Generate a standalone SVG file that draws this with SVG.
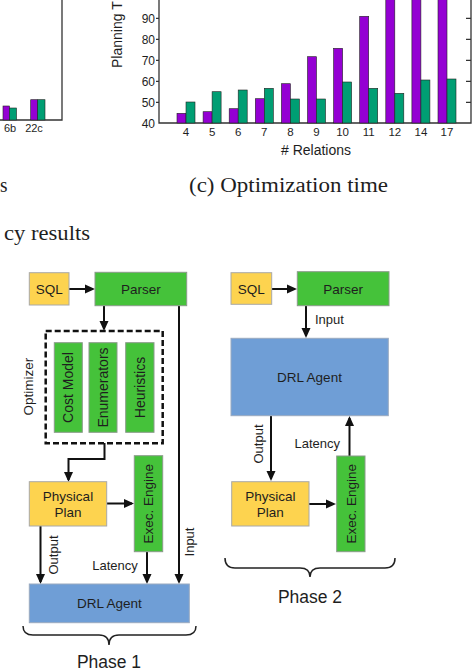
<svg xmlns="http://www.w3.org/2000/svg" width="474" height="671" viewBox="0 0 474 671">
<defs>
<marker id="ah" markerWidth="10" markerHeight="10" refX="8" refY="5" orient="auto" markerUnits="userSpaceOnUse">
<path d="M0,0.5 L10,5 L0,9.5 z" fill="#111"/>
</marker>
<style>
.sans{font-family:"Liberation Sans",Arial,sans-serif;fill:#1e1e1e}
.serif{font-family:"Liberation Serif","Times New Roman",serif;fill:#1e1e1e}
.ax{stroke:#333;stroke-width:1.3;fill:none}
.pu{fill:#9400d3;stroke:#222;stroke-width:0.6}
.gr{fill:#009e73;stroke:#222;stroke-width:0.6}
.yel{fill:#fdd34f;stroke:#a8a8a8;stroke-width:1}
.grn{fill:#45c23a;stroke:#8a9a8a;stroke-width:1}
.blu{fill:#6f9ed6;stroke:#9aaac0;stroke-width:1}
.lbl{font-size:13.5px;text-anchor:middle}
.conn{stroke:#111;stroke-width:2;fill:none}
.brace{stroke:#222;stroke-width:1.5;fill:none}
</style>
</defs>
<rect width="474" height="671" fill="#fff"/>

<g id="chart-b-fragment">
<path class="ax" d="M0,120 H62 V0"/>
<rect class="pu" x="3" y="106" width="6.5" height="14"/>
<rect class="gr" x="9.5" y="108" width="7" height="12"/>
<rect class="pu" x="30.7" y="99.7" width="7" height="20.3"/>
<rect class="gr" x="37.7" y="99.7" width="7.3" height="20.3"/>
<text class="sans" x="10" y="132" font-size="11" text-anchor="middle">6b</text>
<text class="sans" x="34" y="132" font-size="11" text-anchor="middle">22c</text>
<text class="serif" x="0" y="192" font-size="20" textLength="7.5" lengthAdjust="spacingAndGlyphs">s</text>
<text class="serif" x="4" y="240" font-size="20" textLength="86" lengthAdjust="spacingAndGlyphs">cy results</text>
</g>

<g id="chart-c">
<path class="ax" d="M159,0 V123 H471 V0"/>
<g class="ax">
<path d="M156,18.3 H159 M156,39.3 H159 M156,60.3 H159 M156,81.3 H159 M156,102.3 H159"/>
<path d="M466,18.3 H471 M466,39.3 H471 M466,60.3 H471 M466,81.3 H471 M466,102.3 H471"/>
</g>
<g class="sans" font-size="12" text-anchor="end">
<text x="155" y="22.5">90</text>
<text x="155" y="43.5">80</text>
<text x="155" y="64.5">70</text>
<text x="155" y="85.5">60</text>
<text x="155" y="106.5">50</text>
<text x="155" y="127.5">40</text>
</g>
<text class="sans" font-size="14" transform="translate(122,68) rotate(-90)">Planning T</text>
<g id="bars">
<rect class="pu" x="177" y="113.3" width="9" height="9.7"/><rect class="gr" x="186" y="102" width="9" height="21"/>
<rect class="pu" x="203.1" y="111.7" width="9" height="11.3"/><rect class="gr" x="212.1" y="91.7" width="9" height="31.3"/>
<rect class="pu" x="229.2" y="108.7" width="9" height="14.3"/><rect class="gr" x="238.2" y="90" width="9" height="33"/>
<rect class="pu" x="255.3" y="98.7" width="9" height="24.3"/><rect class="gr" x="264.3" y="88.3" width="9" height="34.7"/>
<rect class="pu" x="281.4" y="83.7" width="9" height="39.3"/><rect class="gr" x="290.4" y="99" width="9" height="24"/>
<rect class="pu" x="307.5" y="56.7" width="9" height="66.3"/><rect class="gr" x="316.5" y="99" width="9" height="24"/>
<rect class="pu" x="333.6" y="48.3" width="9" height="74.7"/><rect class="gr" x="342.6" y="82" width="9" height="41"/>
<rect class="pu" x="359.7" y="16.3" width="9" height="106.7"/><rect class="gr" x="368.7" y="88.3" width="9" height="34.7"/>
<rect class="pu" x="385.8" y="-2" width="9" height="125"/><rect class="gr" x="394.8" y="93.3" width="9" height="29.7"/>
<rect class="pu" x="411.9" y="-2" width="9" height="125"/><rect class="gr" x="420.9" y="80" width="9" height="43"/>
<rect class="pu" x="438" y="-2" width="9" height="125"/><rect class="gr" x="447" y="79" width="9" height="44"/>
</g>
<g class="sans" font-size="11.5" text-anchor="middle">
<text x="186" y="135.5">4</text>
<text x="212.1" y="135.5">5</text>
<text x="238.2" y="135.5">6</text>
<text x="264.3" y="135.5">7</text>
<text x="290.4" y="135.5">8</text>
<text x="316.5" y="135.5">9</text>
<text x="342.6" y="135.5">10</text>
<text x="368.7" y="135.5">11</text>
<text x="394.8" y="135.5">12</text>
<text x="420.9" y="135.5">14</text>
<text x="447" y="135.5">17</text>
</g>
<text class="sans" x="316" y="155" font-size="14" text-anchor="middle"># Relations</text>
<text class="serif" x="189" y="192" font-size="20" textLength="199" lengthAdjust="spacingAndGlyphs">(c) Optimization time</text>
</g>

<g id="connectors">
<path class="conn" d="M69,289 H93" marker-end="url(#ah)"/>
<path class="conn" d="M104,306 V329" marker-end="url(#ah)"/>
<path class="conn" d="M179,306 V582" marker-end="url(#ah)"/>
<path class="conn" d="M104.5,443 V459 H68.5 V480" marker-end="url(#ah)"/>
<path class="conn" d="M107,503.5 H132" marker-end="url(#ah)"/>
<path class="conn" d="M40.5,526 V582" marker-end="url(#ah)"/>
<path class="conn" d="M147,552 V582" marker-end="url(#ah)"/>
<path class="conn" d="M272,289 H295" marker-end="url(#ah)"/>
<path class="conn" d="M306,306 V336" marker-end="url(#ah)"/>
<path class="conn" d="M271,416 V479" marker-end="url(#ah)"/>
<path class="conn" d="M349.5,456 V418" marker-end="url(#ah)"/>
<path class="conn" d="M309,504 H334" marker-end="url(#ah)"/>
<g class="sans" font-size="13">
<text transform="translate(53.3,555) rotate(-90)" text-anchor="middle" dy="0.36em">Output</text>
<text x="115" y="570" text-anchor="middle">Latency</text>
<text transform="translate(189.5,542) rotate(-90)" text-anchor="middle" dy="0.36em">Input</text>
<text x="315" y="324">Input</text>
<text transform="translate(258.3,444) rotate(-90)" text-anchor="middle" dy="0.36em">Output</text>
<text x="317.3" y="447.5" text-anchor="middle">Latency</text>
</g>
</g>

<g id="p1-sql"><rect class="yel" x="29.3" y="272.7" width="39.7" height="32.3"/><text class="sans lbl" x="49.2" y="293.8">SQL</text></g>
<g id="p1-parser"><rect class="grn" x="95" y="272.3" width="91.7" height="33.4"/><text class="sans lbl" x="140.8" y="293.8">Parser</text></g>
<g id="p1-optimizer">
<rect x="45.7" y="331" width="117" height="112.3" fill="none" stroke="#111" stroke-width="2.5" stroke-dasharray="6 3"/>
<text class="sans lbl" transform="translate(28.5,386.7) rotate(-90)" dy="0.36em">Optimizer</text>
</g>
<g id="p1-costmodel"><rect class="grn" x="54.3" y="342.7" width="28" height="89.6"/><text class="sans" font-size="14" text-anchor="middle" transform="translate(68.3,387.5) rotate(-90)" dy="0.36em">Cost Model</text></g>
<g id="p1-enumerators"><rect class="grn" x="89" y="342.7" width="28" height="89.6"/><text class="sans" font-size="14" text-anchor="middle" transform="translate(103,387.5) rotate(-90)" dy="0.36em">Enumerators</text></g>
<g id="p1-heuristics"><rect class="grn" x="125.7" y="342.7" width="28.3" height="89.6"/><text class="sans" font-size="14" text-anchor="middle" transform="translate(139.8,387.5) rotate(-90)" dy="0.36em">Heuristics</text></g>
<g id="p1-physplan"><rect class="yel" x="29.3" y="481.7" width="77.4" height="44.3"/><text class="sans lbl" x="68" y="500.8">Physical</text><text class="sans lbl" x="68" y="516.5">Plan</text></g>
<g id="p1-exec"><rect class="grn" x="134.3" y="455.7" width="28.4" height="96"/><text class="sans lbl" transform="translate(148.5,503.7) rotate(-90)" dy="0.36em">Exec. Engine</text></g>
<g id="p1-drl"><rect class="blu" x="29.3" y="584" width="160" height="38.7"/><text class="sans lbl" x="109.3" y="608">DRL Agent</text></g>
<g id="phase1">
<path class="brace" d="M23,626 Q23,635 33,635 L99,635 Q109,635 109,645 Q109,635 119,635 L186,635 Q196,635 196,626"/>
<text class="sans" x="109" y="668" font-size="17.5" text-anchor="middle">Phase 1</text>
</g>

<g id="p2-sql"><rect class="yel" x="231" y="272.7" width="40.7" height="31.6"/><text class="sans lbl" x="251.3" y="293.8">SQL</text></g>
<g id="p2-parser"><rect class="grn" x="297.3" y="271.7" width="91.7" height="34"/><text class="sans lbl" x="343.2" y="293.8">Parser</text></g>
<g id="p2-drl"><rect class="blu" x="231" y="338.3" width="157.3" height="77.4"/><text class="sans lbl" x="309.5" y="382">DRL Agent</text></g>
<g id="p2-physplan"><rect class="yel" x="231.7" y="481.7" width="77.3" height="44.3"/><text class="sans lbl" x="270.3" y="500.8">Physical</text><text class="sans lbl" x="270.3" y="516.5">Plan</text></g>
<g id="p2-exec"><rect class="grn" x="336.7" y="456" width="28.3" height="95.7"/><text class="sans lbl" transform="translate(350.8,503.8) rotate(-90)" dy="0.36em">Exec. Engine</text></g>
<g id="phase2">
<path class="brace" d="M225,558 Q225,568 235,568 L300,568 Q310,568 310,577 Q310,568 320,568 L385,568 Q395,568 395,558"/>
<text class="sans" x="310" y="603" font-size="17.5" text-anchor="middle">Phase 2</text>
</g>
</svg>
